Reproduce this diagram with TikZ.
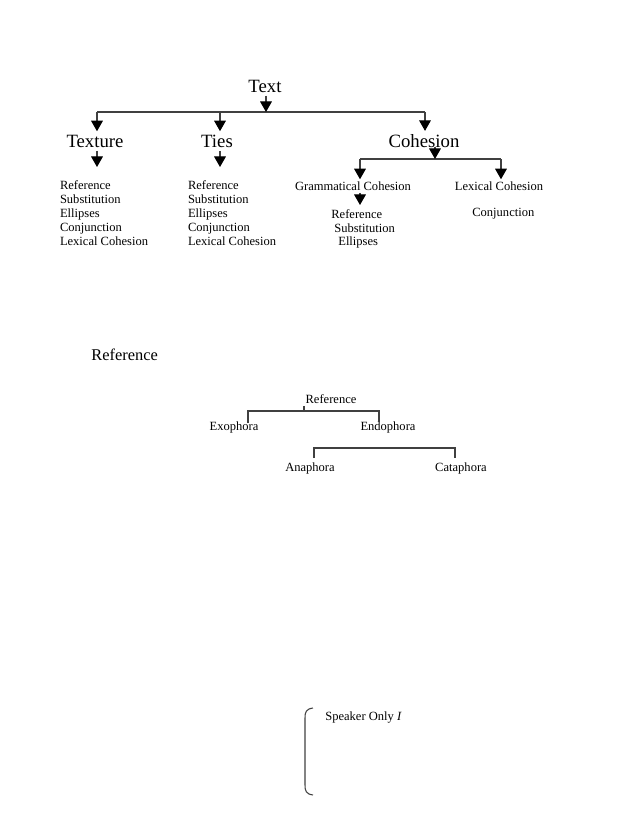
\documentclass[tikz,border=0pt]{standalone}
\usepackage{fontspec}
\setmainfont{Liberation Serif}
\usetikzlibrary{arrows.meta}
\usetikzlibrary{positioning}

\begin{document}
\begin{tikzpicture}[x=0.03cm, y=-0.03cm,
  every node/.style={inner sep=0pt, outer sep=2pt, font=\fontsize{10.7}{11.95}\selectfont},
  big/.style={outer sep=3pt, font=\fontsize{16}{19}\selectfont},
  mid/.style={font=\fontsize{14}{17}\selectfont},
  list/.style={outer sep=0pt, align=left, anchor=north west},
  down/.style={draw=black!75, line width=0.9pt, -{Triangle[length=9pt, width=10pt, black]}},
  line/.style={draw=black!75, line width=0.9pt}]
\useasboundingbox (0,0) rectangle (638,826);

% first tree
\node[big] (Txt) at (265,86) {Text};
\node[big] (Tex) at (95,141) {Texture};
\node[big] (Ties) at (217,141) {Ties};
\node[big] (Coh) at (424,141) {Cohesion};
\coordinate (j0) at (266,112);
\coordinate (j1) at (97,112);
\coordinate (j2) at (220,112);
\coordinate (j3) at (425,112);
\draw[line] (j1) -- (j3);
\draw[down] (Txt.south -| j0) -- (j0);
\foreach \j/\n in {j1/Tex, j2/Ties, j3/Coh}
  \draw[down] (\j) -- (\j |- \n.north);

\node[list] (TexL) at (60,181) {Reference\\Substitution\\Ellipses\\Conjunction\\Lexical Cohesion};
\node[list] (TiesL) at (188,181) {Reference\\Substitution\\Ellipses\\Conjunction\\Lexical Cohesion};
\coordinate (k1) at (97,167);
\coordinate (k2) at (220,167);
\draw[down] (j1 |- Tex.south) -- (k1);
\draw[down] (j2 |- Ties.south) -- (k2);

% cohesion branch
\node (GC) at (353,186) {Grammatical Cohesion};
\node (LC) at (499,186) {Lexical Cohesion};
\coordinate (c0) at (435,159);
\coordinate (c1) at (360,159);
\coordinate (c2) at (501,159);
\draw[line] (c1) -- (c2);
\draw[down] (c0 |- Coh.base) -- (c0);
\draw[down] (c1) -- (c1 |- GC.north);
\draw[down] (c2) -- (c2 |- LC.north);
\coordinate (g1) at (360,205);
\draw[down] (c1 |- GC.south) -- (g1);
\node[anchor=west] (GC1) at (329,214) {Reference};
\node[anchor=west] (GC2) at (332,228) {Substitution};
\node[anchor=west] (GC3) at (336,242) {Ellipses};
\node[anchor=west] (LC1) at (470,214) {Conjunction};

% reference tree
\node[mid, anchor=west] (RefH) at (89,355) {Reference};
\node (R) at (331,399) {Reference};
\node (Exo) at (234,427) {Exophora};
\node (Endo) at (388,427) {Endophora};
\node (Ana) at (310,468) {Anaphora};
\node (Cata) at (461,468) {Cataphora};
\coordinate (r0) at (304,411);
\coordinate (x1) at (248,423);
\coordinate (x2) at (379,422);
\draw[line] (r0 |- R.south) -- (r0);
\draw[line] (x1) |- (r0) -| (x2);
\coordinate (a0) at (385,448);
\coordinate (a1) at (314,458);
\coordinate (a2) at (455,458);
\draw[line] (a1) |- (a0) -| (a2);

% speaker
\node[anchor=west] (Sp) at (323,717) {Speaker Only \textit{I}};
\draw[line] (313,708) .. controls (306,709) and (305,712) .. (305,718) -- (305,785)
  .. controls (305,791) and (306,794) .. (313,795);
\end{tikzpicture}
\end{document}
